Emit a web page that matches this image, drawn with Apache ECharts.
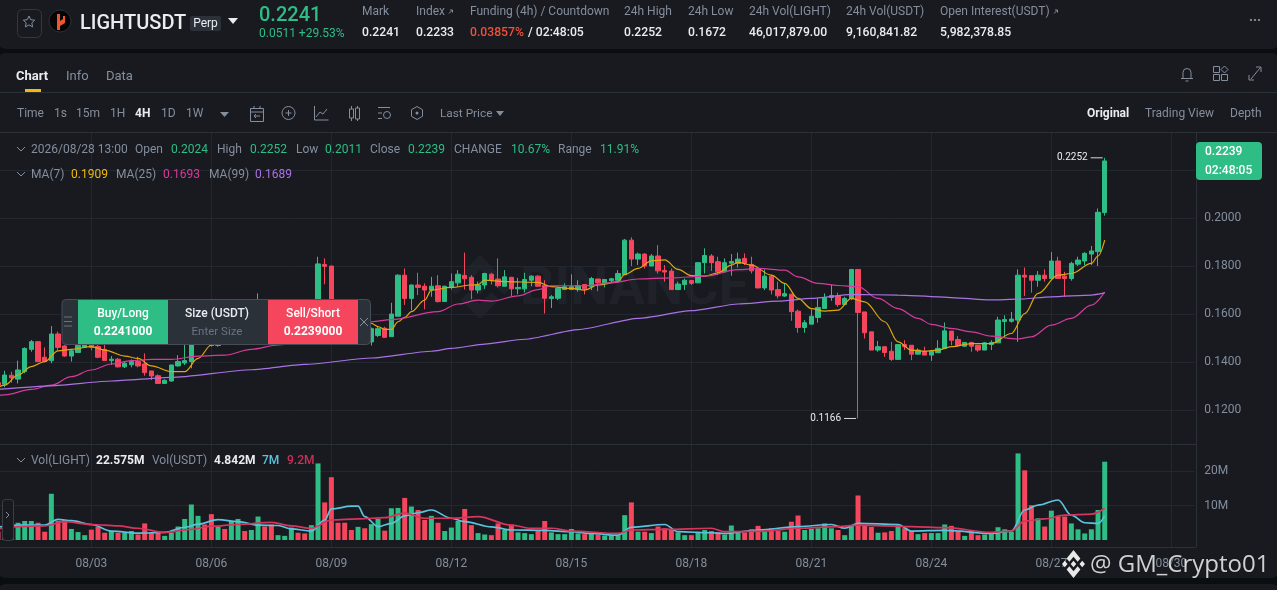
<!DOCTYPE html>
<html><head><meta charset="utf-8">
<style>html,body{margin:0;padding:0;background:#0b0e11;overflow:hidden}#c{position:absolute;left:-10px;top:0;width:1287px;height:590px}</style>
<script src="https://cdn.jsdelivr.net/npm/echarts@6/dist/echarts.min.js"></script>
</head><body><div id="c"></div>
<script>
// [open, close, low, high] for each 4h candle
const candles = [
[.1315,.1305,.1295,.1320],
[.1309,.1347,.1296,.1365],[.1346,.1335,.1315,.1361],[.1330,.1368,.1312,.1407],[.1361,.1458,.1354,.1462],[.1454,.1486,.1444,.1493],
[.1486,.1403,.1401,.1489],[.1421,.1403,.1401,.1462],[.1407,.1518,.1396,.1551],[.1518,.1462,.1449,.1528],[.1468,.1426,.1423,.1472],
[.1426,.1448,.1403,.1454],[.1441,.1471,.1440,.1478],[.1462,.1475,.1460,.1490],[.1480,.1462,.1450,.1490],[.1466,.1421,.1417,.1473],
[.1454,.1407,.1406,.1473],[.1407,.1413,.1389,.1426],[.1413,.1381,.1378,.1418],[.1381,.1396,.1376,.1403],[.1390,.1403,.1379,.1412],
[.1403,.1385,.1379,.1423],[.1393,.1357,.1344,.1437],[.1364,.1343,.1326,.1364],[.1344,.1312,.1310,.1350],[.1312,.1325,.1310,.1329],
[.1322,.1389,.1319,.1389],[.1385,.1403,.1382,.1430],[.1397,.1407,.1389,.1473],[.1403,.1490,.1375,.1510],[.1490,.1505,.1480,.1525],
[.1505,.1490,.1480,.1515],[.1490,.1470,.1465,.1500],[.1470,.1500,.1465,.1510],[.1500,.1490,.1485,.1510],[.1490,.1525,.1485,.1535],
[.1525,.1560,.1520,.1570],[.1560,.1545,.1540,.1570],[.1545,.1565,.1540,.1575],[.1565,.1640,.1560,.1687],[.1640,.1620,.1610,.1650],
[.1620,.1600,.1590,.1630],[.1600,.1610,.1595,.1620],[.1610,.1625,.1605,.1635],[.1625,.1640,.1615,.1650],[.1640,.1625,.1615,.1650],
[.1625,.1610,.1600,.1635],[.1610,.1630,.1605,.1640],[.1630,.1810,.1625,.1840],[.1808,.1800,.1725,.1833],[.1801,.1640,.1630,.1803],
[.1640,.1600,.1590,.1650],[.1600,.1565,.1555,.1610],[.1565,.1545,.1535,.1575],[.1545,.1560,.1540,.1570],[.1560,.1500,.1490,.1565],
[.1485,.1540,.1470,.1545],[.1512,.1540,.1505,.1550],[.1542,.1504,.1502,.1548],[.1507,.1601,.1507,.1648],[.1592,.1763,.1592,.1767],
[.1763,.1666,.1639,.1791],[.1666,.1722,.1617,.1724],[.1722,.1712,.1680,.1773],[.1717,.1701,.1621,.1729],[.1701,.1717,.1673,.1756],
[.1719,.1653,.1649,.1763],[.1653,.1717,.1652,.1719],[.1712,.1736,.1703,.1770],[.1731,.1767,.1715,.1784],[.1762,.1748,.1703,.1857],
[.1754,.1701,.1663,.1763],[.1701,.1722,.1687,.1736],[.1722,.1770,.1706,.1773],[.1767,.1742,.1724,.1773],[.1747,.1719,.1712,.1833],
[.1717,.1756,.1715,.1784],[.1754,.1706,.1676,.1756],[.1706,.1712,.1684,.1752],[.1706,.1745,.1691,.1773],[.1742,.1759,.1717,.1763],
[.1759,.1717,.1715,.1763],[.1720,.1667,.1603,.1742],[.1666,.1673,.1626,.1680],[.1667,.1708,.1659,.1715],[.1703,.1715,.1703,.1729],
[.1703,.1715,.1703,.1767],[.1703,.1719,.1694,.1742],[.1724,.1706,.1683,.1724],[.1715,.1749,.1701,.1756],[.1747,.1731,.1696,.1747],
[.1729,.1745,.1712,.1745],[.1740,.1748,.1731,.1752],[.1742,.1770,.1740,.1784],[.1765,.1909,.1763,.1914],[.1909,.1830,.1801,.1921],
[.1830,.1851,.1805,.1857],[.1851,.1801,.1791,.1854],[.1801,.1843,.1801,.1851],[.1843,.1781,.1770,.1888],[.1783,.1776,.1736,.1805],
[.1780,.1703,.1701,.1791],[.1703,.1726,.1701,.1736],[.1724,.1742,.1701,.1749],[.1741,.1729,.1722,.1742],[.1731,.1815,.1731,.1815],
[.1815,.1845,.1770,.1875],[.1843,.1815,.1781,.1851],[.1819,.1777,.1763,.1840],[.1777,.1815,.1775,.1833],[.1813,.1820,.1761,.1851],
[.1812,.1830,.1795,.1857],[.1833,.1812,.1805,.1854],[.1808,.1781,.1770,.1840],[.1787,.1710,.1708,.1791],[.1710,.1759,.1701,.1787],
[.1759,.1701,.1683,.1763],[.1703,.1677,.1666,.1736],[.1676,.1686,.1673,.1729],[.1684,.1611,.1573,.1684],[.1613,.1545,.1523,.1620],
[.1545,.1565,.1523,.1576],[.1559,.1592,.1559,.1620],[.1587,.1628,.1565,.1666],[.1624,.1670,.1624,.1687],[.1670,.1678,.1656,.1723],
[.1676,.1641,.1631,.1690],[.1641,.1666,.1638,.1673],[.1666,.1787,.1659,.1787],[.1787,.1608,.1166,.1787],[.1610,.1523,.1499,.1610],
[.1527,.1451,.1451,.1527],[.1451,.1465,.1444,.1489],[.1465,.1441,.1423,.1465],[.1446,.1412,.1406,.1485],[.1412,.1474,.1412,.1474],
[.1474,.1465,.1451,.1492],[.1471,.1434,.1409,.1471],[.1434,.1451,.1434,.1458],[.1446,.1430,.1430,.1465],[.1430,.1446,.1406,.1451],
[.1440,.1458,.1440,.1492],[.1458,.1531,.1458,.1566],[.1530,.1492,.1471,.1530],[.1495,.1470,.1465,.1509],[.1467,.1483,.1465,.1483],
[.1483,.1467,.1444,.1485],[.1471,.1451,.1444,.1471],[.1451,.1481,.1451,.1485],[.1474,.1483,.1451,.1492],[.1481,.1576,.1481,.1590],
[.1570,.1578,.1506,.1596],[.1571,.1580,.1565,.1610],[.1576,.1763,.1485,.1787],[.1763,.1755,.1676,.1795],[.1761,.1742,.1690,.1761],
[.1742,.1763,.1715,.1780],[.1763,.1749,.1736,.1787],[.1749,.1822,.1749,.1859],[.1822,.1749,.1747,.1840],[.1759,.1749,.1673,.1777],
[.1749,.1812,.1740,.1819],[.1809,.1826,.1801,.1840],[.1822,.1854,.1805,.1859],[.1851,.1864,.1805,.1885],[.1861,.2025,.1801,.2041],
[.2024,.2239,.2011,.2252]];
// traded volume per candle, millions
const volumes = [2.4,
1.9,2.4,5.0,5.5,5.5,5.0,2.4,13.4,5.5,5.8,3.2,2.3,1.4,3.0,3.9,2.1,2.6,2.1,2.1,2.6,
1.6,4.8,2.1,2.1,1.2,2.1,3.9,6.1,10.3,7.0,4.5,7.5,3.9,3.2,5.5,6.1,2.6,2.9,6.8,3.9,
4.5,1.4,1.2,3.6,2.1,1.9,4.3,22.2,10.9,18.2,5.0,5.0,2.9,3.8,3.4,4.6,6.1,2.7,9.2,9.3,
12.2,9.7,8.7,5.8,7.0,5.0,2.6,3.6,5.5,9.0,4.3,2.0,1.6,1.4,4.8,2.9,4.5,2.2,2.0,1.7,
2.6,5.5,2.2,1.7,1.7,3.2,1.9,1.7,1.9,1.6,1.3,1.4,1.3,7.2,10.9,2.4,2.4,2.0,3.9,3.4,
2.9,2.2,1.4,1.4,2.4,2.9,2.6,2.2,1.6,4.2,2.2,2.2,3.1,4.1,2.4,3.4,2.6,2.4,5.3,7.1,
2.9,3.2,3.4,4.8,3.4,2.9,1.4,4.3,12.9,4.3,3.8,2.1,2.2,2.6,4.3,3.4,2.6,1.7,2.0,2.0,
2.0,4.5,4.1,2.4,1.2,2.6,1.4,1.6,2.2,3.7,3.1,2.4,25.1,20.2,10.1,6.3,3.9,8.5,6.8,6.8,
4.8,3.1,1.9,3.1,8.7,22.7];
// moving averages as [candle index, value]
const ma7 = [[0,.1295],[1,.1305],[3,.1347],[5,.1382],[7,.1403],[9,.1448],[11,.1454],[14,.1465],[16,.1451],[19,.1426],[21,.1416],[23,.1385],[26,.1361],[28,.1361],[30,.1416],[32,.1472],[35,.1510],[38,.1545],[41,.1575],[45,.1560],[48,.1590],[51,.1640],[54,.1610],[56,.1562],[57,.1549],[58,.1537],[59,.1537],[60,.1569],[61,.1587],[62,.1611],[64,.1659],[65,.1701],[68,.1712],[71,.1722],[72,.1724],[73,.1742],[76,.1736],[81,.1733],[83,.1715],[86,.1708],[88,.1701],[90,.1722],[93,.1736],[94,.1766],[96,.1791],[98,.1823],[100,.1827],[102,.1787],[104,.1761],[106,.1759],[108,.1773],[110,.1805],[111,.1816],[113,.1805],[116,.1763],[118,.1729],[120,.1666],[122,.1624],[124,.1613],[126,.1617],[128,.1666],[130,.1652],[133,.1569],[135,.1485],[137,.1451],[139,.1446],[141,.1451],[143,.1465],[146,.1478],[149,.1478],[152,.1520],[154,.1603],[156,.1687],[159,.1763],[161,.1770],[164,.1812],[165,.1843],[166,.1909]];
const ma25 = [[0,.1262],[1,.1264],[5,.1287],[8,.1305],[11,.1340],[14,.1368],[17,.1393],[20,.1407],[23,.1412],[26,.1412],[30,.1426],[34,.1430],[38,.1454],[42,.1472],[49,.1525],[56,.1569],[59,.1578],[66,.1611],[69,.1643],[72,.1659],[74,.1655],[78,.1677],[81,.1703],[83,.1719],[88,.1719],[92,.1731],[96,.1747],[101,.1752],[106,.1759],[111,.1786],[114,.1791],[118,.1784],[120,.1756],[123,.1729],[126,.1720],[129,.1715],[132,.1666],[135,.1624],[138,.1583],[140,.1558],[143,.1541],[146,.1527],[149,.1509],[153,.1497],[155,.1506],[158,.1555],[161,.1583],[164,.1638],[166,.1693]];
const ma99 = [[0,.1287],[8,.1302],[17,.1322],[26,.1337],[38,.1369],[46,.1391],[56,.1418],[65,.1446],[68,.1458],[73,.1476],[79,.1496],[87,.1536],[96,.1583],[104,.1615],[111,.1643],[117,.1655],[122,.1666],[128,.1683],[135,.1680],[141,.1673],[149,.1660],[153,.1663],[158,.1673],[164,.1680],[166,.1689]];
const volMa7 = [[0,3.8],[1,3.9],[3,4.3],[7,4.3],[9,6.0],[11,5.6],[14,4.5],[17,2.6],[21,2.0],[25,2.2],[28,3.7],[30,4.6],[33,5.9],[36,5.3],[39,4.3],[42,4.2],[44,3.2],[47,2.6],[49,5.8],[50,9.0],[53,9.8],[54,9.8],[55,6.8],[57,3.9],[59,4.8],[61,7.0],[63,7.9],[65,8.7],[68,6.3],[70,5.3],[74,3.8],[77,2.9],[82,2.8],[86,2.4],[89,1.9],[93,1.4],[95,3.7],[100,4.5],[102,2.4],[107,2.1],[109,1.9],[114,2.9],[120,3.9],[125,4.5],[127,3.4],[129,4.8],[135,4.5],[137,2.6],[142,2.8],[149,1.9],[152,2.6],[154,8.7],[156,10.1],[159,11.6],[161,7.2],[163,5.0],[165,4.8],[166,7.0]];
const volMa25 = [[0,3.3],[1,3.4],[3,3.9],[7,4.1],[10,5.3],[14,4.5],[18,4.1],[21,3.4],[25,2.2],[29,3.1],[32,4.0],[36,4.5],[41,5.1],[44,4.1],[47,3.4],[50,5.8],[54,6.1],[58,6.5],[61,7.8],[64,6.3],[68,6.3],[72,6.8],[77,4.3],[80,3.4],[83,3.4],[86,2.6],[93,1.9],[95,2.9],[100,3.1],[107,3.4],[109,2.4],[115,2.6],[120,3.4],[126,3.9],[129,4.3],[137,3.9],[142,3.6],[149,2.2],[152,2.6],[154,5.5],[157,6.1],[160,7.2],[164,7.5],[166,9.2]];
const priceTicks = [.12,.14,.16,.18,.20,.22];
const volumeTicks = [10,20];
// 4h category slots; 08/03 falls on slot 14
const SLOTS = 180, FIRST_LABEL = 14, LABEL_EVERY = 18;
const categories = [];
for (let i = 0; i < SLOTS; i++) {
  const d = new Date(Date.UTC(2026, 7, 3, (i - FIRST_LABEL) * 4));
  const pad = n => String(n).padStart(2, '0');
  categories.push(pad(d.getUTCMonth() + 1) + '/' + pad(d.getUTCDate()) + ' ' + pad(d.getUTCHours()) + ':00');
}

const GREEN = '#2ebd85', RED = '#f6465d', GREY = '#848e9c', WHITE = '#eaecef', PANEL = '#181a20', GRID = '#23272f', LINE = '#2b3139', FONT = 'Roboto, "Noto Sans", sans-serif';
const g = [];
let pathCount = 0;
const t = (x, y, text, fill, size, weight, align, z) => g.push({type:'text', silent:true, z: z === undefined ? 50 : z, style:{x, y: y + 1, text, fill: fill || GREY, fontSize: size || 12, fontWeight: weight || 400, fontFamily: FONT, textAlign: align || 'left', textVerticalAlign:'middle'}});
const r = (x, y, w, h, fill, rad, z, stroke) => g.push({type:'rect', silent:true, z: z === undefined ? -10 : z, shape:{x, y, width:w, height:h, r: rad || 0}, style:{fill, stroke: stroke || null, lineWidth: stroke ? 1 : 0}});
const p = (d, stroke, fill, z, w) => {
  const name = 'chromePath' + (pathCount++);
  echarts.graphic.registerShape(name, echarts.graphic.extendPath(d, {}));
  g.push({type:name, silent:true, z: z === undefined ? 50 : z, style:{stroke: stroke || null, fill: fill || 'none', lineWidth: w || 1}});
};
const logo = (cx, cy, sx, sy) => {
  const f = (a, b) => (cx + a * sx) + ' ' + (cy + b * (sy || sx));
  return 'M' + f(0,-1) + 'L' + f(.6,-.4) + 'L' + f(.36,-.16) + 'L' + f(0,-.52) + 'L' + f(-.36,-.16) + 'L' + f(-.6,-.4) + 'Z'
    + 'M' + f(0,1) + 'L' + f(.6,.4) + 'L' + f(.36,.16) + 'L' + f(0,.52) + 'L' + f(-.36,.16) + 'L' + f(-.6,.4) + 'Z'
    + 'M' + f(0,-.24) + 'L' + f(.24,0) + 'L' + f(0,.24) + 'L' + f(-.24,0) + 'Z'
    + 'M' + f(-.76,-.24) + 'L' + f(-.52,0) + 'L' + f(-.76,.24) + 'L' + f(-1,0) + 'Z'
    + 'M' + f(.76,-.24) + 'L' + f(1,0) + 'L' + f(.76,.24) + 'L' + f(.52,0) + 'Z';
};

// panels
r(-4, -6, 1285, 55, PANEL, 10);
r(-4, 53, 1285, 525, PANEL, 10);
r(-4, 584, 1285, 20, PANEL, 10);
r(0, 92, 1277, 1, LINE);
r(0, 132, 1277, 1, LINE);
r(0, 444, 1196, 1, LINE, 0, -8);
r(0, 547, 1196, 1, LINE, 0, -8);
r(1196, 133, 1, 414, LINE, 0, -8);

// watermark in plot
p(logo(480, 287, 32), null, '#1f2229', -6);
t(520, 289, 'BINANCE', '#1f2229', 54, 700, 'left', -6);

// header
r(17.5, 9.5, 24, 28, 'none', 5, 50, '#333840');
p('M29 16l1.7 3.7 4 .5-2.9 2.7.8 4-3.6-2-3.6 2 .8-4-2.9-2.7 4-.5z', '#848e9c');
g.push({type:'circle', silent:true, z:50, shape:{cx:60, cy:21, r:11}, style:{fill:'#050505', stroke:'#2b3139', lineWidth:1}});
p('M57 14h3v7l3-2v-3h2v7l-5 3v4h-3z', null, '#f0562d', 51);
t(80, 23, 'LIGHTUSDT', WHITE, 20, 500);
r(190, 16, 31, 15, LINE, 2, 40);
t(205.5, 23, 'Perp', WHITE, 12, 400, 'center');
p('M228 18h10l-5 6z', null, WHITE);
t(259, 15, '0.2241', GREEN, 20, 500);
t(259, 33, '0.0511 +29.53%', GREEN, 12);
const heads = [[362,'Mark','0.2241'],[416,'Index','0.2233'],[624,'24h High','0.2252'],[688,'24h Low','0.1672'],[749,'24h Vol(LIGHT)','46,017,879.00'],[846,'24h Vol(USDT)','9,160,841.82'],[940,'Open Interest(USDT)','5,982,378.85']];
heads.forEach(h => { t(h[0], 11, h[1], GREY, 12); t(h[0], 32, h[2], WHITE, 12.2, 500); });
const tiny = x => p('M' + x + ' 13.5l3.5-3.5M' + (x + 1) + ' 10h2.5v2.5', GREY);
tiny(449);
tiny(1054);
t(470, 11, 'Funding (4h) / Countdown', GREY, 12);
t(470, 32, '0.03857%', '#f0513a', 12.2, 500);
t(528, 32, '/ 02:48:05', WHITE, 12.2, 500);
t(1255, 16, '...', GREY, 14, 700, 'center');

// tabs
t(16, 76, 'Chart', WHITE, 13, 700);
t(66, 76, 'Info', GREY, 13);
t(106, 76, 'Data', GREY, 13);
r(25, 89, 16, 3, '#f0b90b', 0, 40);
p('M1181 78.5h12M1183 78.5v-6a4 4 0 0 1 8 0v6M1185.5 81h3', GREY);
p('M1213.5 66.5h6v6h-6zM1213.5 74.5h6v6h-6zM1221.5 74.5h6v6h-6zM1224.5 66l3.5 3.5-3.5 3.5-3.5-3.5z', GREY);
p('M1251 79l9-11M1256 67h5v5M1249 75v5h5', GREY);

// toolbar
[[17,'Time'],[54,'1s'],[76,'15m'],[110,'1H'],[161,'1D'],[186,'1W']].forEach(a => t(a[0], 113, a[1], GREY, 12));
t(135, 113, '4H', WHITE, 12, 700);
p('M220 112h9l-4.5 5z', null, GREY);
p('M250.5 108.5h13v13h-13zM250.5 112h13M254 106v3M260 106v3M260 116h-6M256 114l-2 2 2 2', GREY);
g.push({type:'circle', silent:true, z:50, shape:{cx:288.5, cy:113, r:6.5}, style:{stroke:GREY, fill:'none', lineWidth:1}});
p('M285.5 113h6M288.5 110v6M314.5 106v14h14M316 117l4-5 3 2 4-5', GREY);
p('M349.5 109h4v9h-4zM355.5 108h4v11h-4zM351.5 106v3M351.5 118v3M357.5 106v2M357.5 119v2', GREY);
p('M378 107.5h12M378 113h4M378 118.5h4', GREY);
g.push({type:'circle', silent:true, z:50, shape:{cx:387, cy:115, r:3.5}, style:{stroke:GREY, fill:'none', lineWidth:1}});
p('M417 106.5l5.5 3.2v6.6l-5.5 3.2-5.5-3.2v-6.6z', GREY);
g.push({type:'circle', silent:true, z:50, shape:{cx:417, cy:113, r:1.5}, style:{fill:GREY}});
t(440, 113, 'Last Price', GREY, 11.8);
p('M496 111h8l-4 5z', null, GREY);
t(1087, 113, 'Original', WHITE, 12, 700);
t(1145, 113, 'Trading View', GREY, 12);
t(1230, 113, 'Depth', GREY, 12);

// info rows (drawn above the series)
const chev = (x, y) => p('M' + (x-4) + ' ' + (y-2) + 'l4 4 4-4', GREY);
chev(21, 149);
chev(21, 174);
chev(21, 460);
[[31,'2026/08/28 13:00'],[135,'Open'],[217,'High'],[296,'Low'],[370,'Close'],[454,'CHANGE'],[558,'Range']].forEach(a => t(a[0], 149, a[1], GREY, 12));
[[171,'0.2024'],[250,'0.2252'],[325,'0.2011'],[408,'0.2239'],[511,'10.67%'],[600,'11.91%']].forEach(a => t(a[0], 149, a[1], GREEN, 12));
t(31, 174, 'MA(7)', GREY, 12);
t(71, 174, '0.1909', '#f0b90b', 12);
t(116, 174, 'MA(25)', GREY, 12);
t(163, 174, '0.1693', '#d63b9b', 12);
t(209, 174, 'MA(99)', GREY, 12);
t(255, 174, '0.1689', '#ab72e6', 12);
t(31, 460, 'Vol(LIGHT)', GREY, 12);
t(96, 460, '22.575M', WHITE, 12, 700);
t(152, 460, 'Vol(USDT)', GREY, 12);
t(214, 460, '4.842M', WHITE, 12, 700);
t(262, 460, '7M', '#5ac3de', 12, 500);
t(287, 460, '9.2M', '#c9305a', 12, 500);

// price tag
r(1196, 142, 66, 38, GREEN, 4, 60);
t(1205, 151, '0.2239', '#fff', 12, 500, 'left', 61);
t(1205, 170, '02:48:05', '#fff', 12, 500, 'left', 61);

// volume pane handle
r(2.5, 499.5, 11, 41, PANEL, 3, 60, '#3a3f47');
p('M6 512l3 3-3 3', GREY, null, 61);

// order panel
r(62, 299.5, 308.5, 45, '#2b3139', 4, 70, '#474d57');
r(78, 300, 90, 44, GREEN, 0, 71);
r(268, 300, 90, 44, RED, 0, 71);
p('M64 317h8M64 321.5h8M64 326h8', '#6b7280', null, 72);
p('M360 318l8 8M368 318l-8 8', '#848e9c', null, 72);
t(123, 313, 'Buy/Long', '#fff', 12, 500, 'center', 72);
t(123, 331, '0.2241000', '#fff', 12, 700, 'center', 72);
t(217, 313, 'Size (USDT)', WHITE, 12, 500, 'center', 72);
t(217, 331, 'Enter Size', '#6b7280', 11.5, 400, 'center', 72);
t(313, 313, 'Sell/Short', '#fff', 12, 500, 'center', 72);
t(313, 331, '0.2239000', '#fff', 12, 700, 'center', 72);

// author watermark
p(logo(1073.5, 564, 11.5, 14), null, 'rgba(255,255,255,.9)', 80);
g.push({type:'text', silent:true, z:80, style:{x:1090, y:565, text:'@ GM_Crypto01', fill:'rgba(255,255,255,.8)', stroke:'rgba(0,0,0,.3)', lineWidth:1, fontSize:24, fontFamily:'"Open Sans", sans-serif', textVerticalAlign:'middle'}});

const isTick = i => (i - FIRST_LABEL) % LABEL_EVERY === 0;
const lineS = (name, data, color, width, x, y, sm) => ({name, type:'line', data, xAxisIndex:x, yAxisIndex:y, showSymbol:false, symbol:'none', smooth:sm, smoothMonotone:'x', silent:true, lineStyle:{color, width}, z:4});
const extreme = (i, v, text) => ({coord:[categories[i], v], symbol:'rect', symbolSize:[12,1], symbolOffset:[-8,0], itemStyle:{color:'#d6d9dd'}, label:{show:true, position:'left', distance:3, formatter:text, color:WHITE, fontSize:10, fontFamily:FONT}});

const chart = echarts.init(document.getElementById('c'), null, {width:1287, height:590});
chart.setOption({
  animation:false,
  backgroundColor:'#0b0e11',
  graphic:{elements:[{type:'group', x:10, y:0, silent:true, children:g}]},
  grid:[
    {left:4.7, top:133, width:1200, height:311},
    {left:4.7, top:445, width:1200, height:102}
  ],
  xAxis:[
    {type:'category', gridIndex:0, data:categories, axisLine:{show:false}, axisTick:{show:false, interval:(i)=>isTick(i), alignWithLabel:true}, axisLabel:{show:false, interval:(i)=>isTick(i)}, splitLine:{show:true, interval:(i)=>isTick(i), alignWithLabel:true, lineStyle:{color:GRID}}},
    {type:'category', gridIndex:1, data:categories, axisLine:{show:false}, axisTick:{show:false, interval:(i)=>isTick(i), alignWithLabel:true}, axisLabel:{show:true, interval:(i)=>isTick(i), margin:11, color:GREY, fontSize:12, fontFamily:FONT, formatter:v=>v.slice(0,5)}, splitLine:{show:true, interval:(i)=>isTick(i), alignWithLabel:true, lineStyle:{color:GRID}}}
  ],
  yAxis:[
    {type:'value', gridIndex:0, position:'right', offset:1.6, min:.10596, max:.23554, axisLine:{show:false}, axisTick:{show:false, customValues:priceTicks}, axisLabel:{customValues:priceTicks, margin:8, color:GREY, fontSize:12, fontFamily:FONT, formatter:v=>v>.21?'':v.toFixed(4)}, splitLine:{show:true, lineStyle:{color:GRID}}},
    {type:'value', gridIndex:1, position:'right', offset:1.6, min:-2.03, max:27.54, axisLine:{show:false}, axisTick:{show:false, customValues:volumeTicks}, axisLabel:{customValues:volumeTicks, margin:8, color:GREY, fontSize:12, fontFamily:FONT, formatter:v=>v+'M'}, splitLine:{show:true, lineStyle:{color:GRID}}}
  ],
  series:[
    {name:'Price', type:'candlestick', xAxisIndex:0, yAxisIndex:0, data:candles, barWidth:5, silent:true, z:3,
      itemStyle:{color:GREEN, color0:RED, borderColor:GREEN, borderColor0:RED, borderWidth:1},
      markPoint:{silent:true, animation:false, data:[extreme(166,.2252,'0.2252'), extreme(129,.1166,'0.1166')]}},
    lineS('MA7', ma7, '#e0a80c', 1.2, 0, 0, .35),
    lineS('MA25', ma25, '#d63b9b', 1.2, 0, 0, .35),
    lineS('MA99', ma99, '#ab72e6', 1.2, 0, 0, .2),
    {name:'Volume', type:'bar', xAxisIndex:1, yAxisIndex:1, barWidth:5, silent:true, z:3,
      data:volumes.map((v,i)=>({value:v, itemStyle:{color:candles[i][1]>=candles[i][0]?GREEN:RED}}))},
    lineS('Vol MA7', volMa7, '#5ac3de', 1.7, 1, 1, .35),
    lineS('Vol MA25', volMa25, '#d6355e', 1.7, 1, 1, .35)
  ]
});
</script></body></html>
